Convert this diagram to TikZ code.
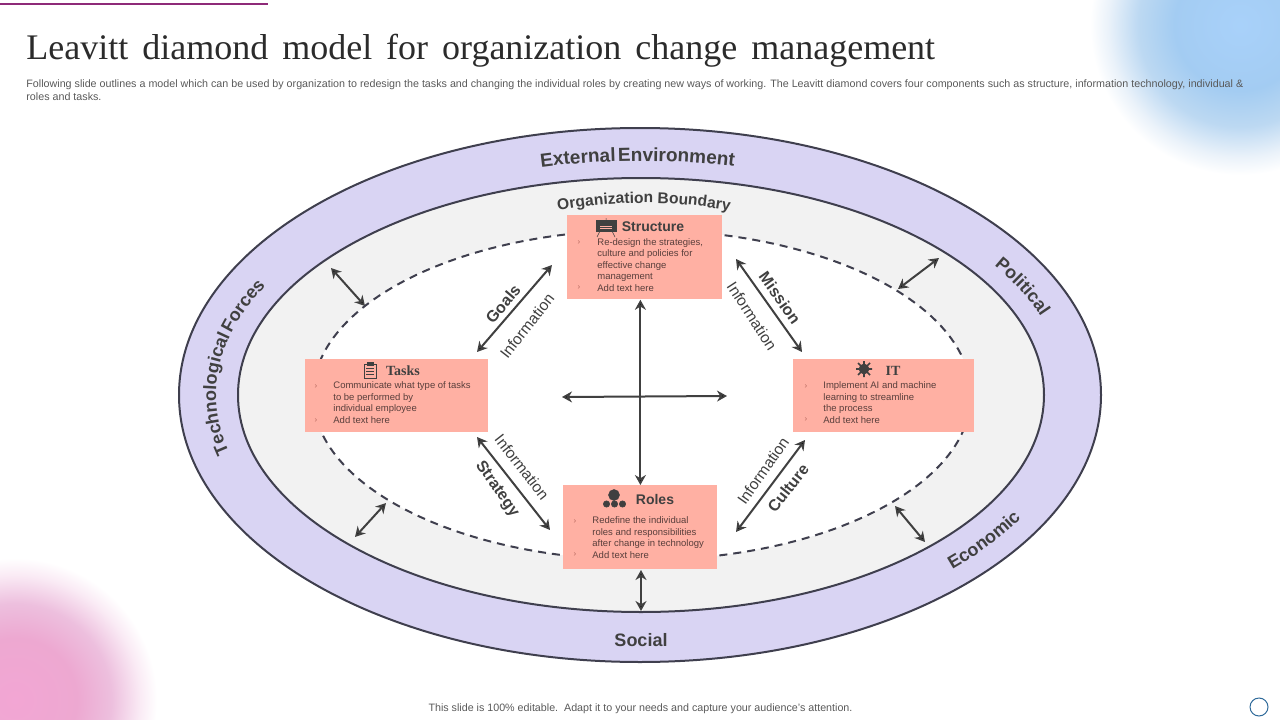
\documentclass[tikz,border=0pt]{standalone}
\usepackage{fontspec}
\setmainfont{Liberation Sans}
\newfontfamily\titlefont[WordSpace=1.55]{Liberation Serif}
\newfontfamily\ringfont[WordSpace=0.45]{Liberation Sans}
\usepackage{tikz}
\usetikzlibrary{arrows.meta,shapes.geometric,decorations.text}
\definecolor{ink}{HTML}{404040}
\definecolor{rim}{HTML}{3F3F4E}
\definecolor{lavender}{HTML}{D9D4F3}
\definecolor{paper}{HTML}{F2F2F2}
\definecolor{salmon}{HTML}{FFB0A3}
\definecolor{boxtext}{HTML}{5A3F3C}
\definecolor{tick}{HTML}{B8695E}
\definecolor{greytext}{HTML}{595959}
\definecolor{titletext}{HTML}{2B2B2B}
\pgfdeclareradialshading{blueblob}{\pgfpoint{0bp}{0bp}}{rgb(0bp)=(0.66,0.82,0.98);rgb(11bp)=(0.64,0.80,0.95);rgb(17bp)=(0.74,0.85,0.95);rgb(22bp)=(0.92,0.95,0.98);rgb(25bp)=(1,1,1);rgb(50bp)=(1,1,1)}
\pgfdeclareradialshading{pinkblob}{\pgfpoint{0bp}{0bp}}{rgb(0bp)=(0.95,0.65,0.83);rgb(11bp)=(0.93,0.66,0.82);rgb(17bp)=(0.93,0.75,0.87);rgb(22bp)=(0.98,0.92,0.96);rgb(25bp)=(1,1,1);rgb(50bp)=(1,1,1)}

\begin{document}
\begin{tikzpicture}[x=1pt,y=-1pt,>={Stealth[length=10pt,width=11pt]},thick]
  \tikzstyle{ring}=[ellipse,inner sep=0pt,draw=rim,line width=2pt]
  \tikzstyle{box}=[rectangle,fill=salmon,inner sep=0pt,anchor=north west]
  \tikzstyle{body}=[anchor=north west,inner sep=0pt,align=left,text=boxtext,font=\fontsize{9.5}{11.45}\selectfont]
  \tikzstyle{tick}=[inner sep=0pt,text=tick,font=\fontsize{8}{8}\selectfont]
  \tikzstyle{headsans}=[inner sep=0pt,text=ink,font=\bfseries\fontsize{14}{16}\selectfont]
  \tikzstyle{headserif}=[inner sep=0pt,text=ink,font=\titlefont\bfseries\fontsize{14}{16}\selectfont]
  \tikzstyle{every edge}=[draw=ink,line width=2pt]
  \tikzstyle{word}=[inner sep=0pt,text=ink,font=\bfseries\fontsize{16}{18}\selectfont]
  \tikzstyle{info}=[inner sep=0pt,text=ink,font=\fontsize{15.5}{18}\selectfont]
  \tikzstyle{icon}=[draw=ink,fill=ink,line width=0.5pt]

  \useasboundingbox (0,0) rectangle (1280,720);
  \begin{scope}
    \clip (0,0) rectangle (1280,720);
    \shade[shading=blueblob] (1240,25) circle [radius=150pt];
    \shade[shading=pinkblob] (15,700) circle [radius=142pt];
  \end{scope}

  \coordinate (barL) at (0,4);
  \coordinate (barR) at (268,4);
  \path (barL) edge [draw={rgb,255:red,142;green,42;blue,120},line width=2pt] (barR);

  \node[inner sep=0pt,anchor=west,text=titletext,font=\titlefont\fontsize{36}{40}\selectfont] (title) at (26,51)
    {Leavitt diamond model for organization change management};
  \node[inner sep=0pt,anchor=north west,align=left,text=greytext,font=\fontsize{10.72}{13.2}\selectfont] (intro) at (26,79.5)
    {Following slide outlines a model which can be used by organization to redesign the tasks and changing the individual roles by creating new ways of working. The Leavitt diamond covers four components such as structure, information technology, individual \&\\roles and tasks.};

  \node[ring,fill=lavender,minimum width=922pt,minimum height=534pt] (outer) at (640,395) {};
  \node[ring,fill=paper,minimum width=806pt,minimum height=434pt] (inner) at (641,395) {};
  \node[ellipse,inner sep=0pt,fill=white,draw=rim,line width=2pt,dash pattern=on 8pt off 6pt,minimum width=658pt,minimum height=330pt] (dashed) at (642,395) {};

  \coordinate (mid) at (641,395);
  \path[decorate,decoration={text along path,text align=center,text color=ink,
      text={|\ringfont\bfseries\fontsize{19}{20}\selectfont|External Environment}}]
    (mid) ++(116.5:426pt and 234pt) arc [start angle=116.5,end angle=64.5,x radius=426pt,y radius=234pt];
  \path[decorate,decoration={text along path,text align=center,text color=ink,
      text={|\ringfont\bfseries\fontsize{18}{20}\selectfont|Technological Forces}}]
    (mid) ++(207:425pt and 232pt) arc [start angle=207,end angle=141,x radius=425pt,y radius=232pt];
  \path[decorate,decoration={text along path,text align=center,text color=ink,
      text={|\bfseries\fontsize{18}{20}\selectfont|Political}}]
    (mid) ++(47:425pt and 232pt) arc [start angle=47,end angle=2,x radius=425pt,y radius=232pt];
  \path[decorate,decoration={text along path,text align=center,text color=ink,
      text={|\bfseries\fontsize{18}{20}\selectfont|Economic}}]
    (mid) ++(-58:438pt and 248pt) arc [start angle=-58,end angle=-12,x radius=438pt,y radius=248pt];
  \coordinate (bow) at (644,333);
  \path[decorate,decoration={text along path,text align=center,text color=ink,
      text={|\bfseries\fontsize{15.6}{18}\selectfont|Organization Boundary}}]
    (bow) ++(140:250pt and 130pt) arc [start angle=140,end angle=40,x radius=250pt,y radius=130pt];
  \node[word,font=\bfseries\fontsize{18}{20}\selectfont] (social) at (641,640) {Social};

  \node[box,minimum width=155pt,minimum height=84pt] (structure) at (567,215) {};
  \node[box,minimum width=183pt,minimum height=73pt] (tasks) at (305,359) {};
  \node[box,minimum width=181pt,minimum height=73pt] (it) at (793,359) {};
  \node[box,minimum width=154pt,minimum height=84pt] (roles) at (563,485) {};

  \path[icon] (596,220) rectangle (616,231);
  \draw[ink,line width=0.5pt] (600,231) -- (597,237) (612,231) -- (615,237) (606,218) -- (606,220);
  \draw[salmon,line width=0.4pt] (600,226) -- (612,226) (600,228) -- (612,228);
  \node[headsans] (structurehead) at (653,227) {Structure};
  \node[body] (structuretext) at (597,238) {Re-design the strategies,\\culture and policies for\\effective change\\management\\Add text here};
  \node[tick] (structuretickA) at (579,243) {›};
  \node[tick] (structuretickB) at (579,288) {›};

  \draw[ink,line width=1pt] (364,364) rectangle (376,378);
  \path[icon] (367,362) rectangle (373,365);
  \draw[ink,line width=0.7pt] (366,368) -- (374,368) (366,371) -- (374,371) (366,374) -- (374,374);
  \node[headserif] (taskshead) at (403,371) {Tasks};
  \node[body] (taskstext) at (333,381.5) {Communicate what type of tasks\\to be performed by\\individual employee\\Add text here};
  \node[tick] (taskstickA) at (316,387) {›};
  \node[tick] (taskstickB) at (316,421) {›};

  \path[icon] (864,369) circle [radius=5pt];
  \draw[ink,line width=1.6pt] (856,369) -- (872,369) (858,375) -- (870,363) (858,363) -- (870,375) (864,361) -- (864,377);
  \node[headserif] (ithead) at (893,371) {IT};
  \node[body] (ittext) at (823,381.5) {Implement AI and machine\\learning to streamline\\the process\\Add text here};
  \node[tick] (ittickA) at (806,387) {›};
  \node[tick] (ittickB) at (806,420) {›};

  \path[icon] (614,495) circle [radius=5.5pt];
  \path[icon] (606.5,504) circle [radius=3.2pt] (614.5,504) circle [radius=3.2pt] (622.5,504) circle [radius=3.2pt];
  \node[headsans] (roleshead) at (655,499) {Roles};
  \node[body] (rolestext) at (592,516.5) {Redefine the individual\\roles and responsibilities\\after change in technology\\Add text here};
  \node[tick] (rolestickA) at (575,522) {›};
  \node[tick] (rolestickB) at (575,555) {›};

  \coordinate (goalsA) at (552,265);
  \coordinate (goalsB) at (477,352);
  \coordinate (missionA) at (736,259);
  \coordinate (missionB) at (802,352);
  \coordinate (strategyA) at (477,437);
  \coordinate (strategyB) at (550,530);
  \coordinate (cultureA) at (805,440);
  \coordinate (cultureB) at (736,532);
  \coordinate (crossL) at (562,397);
  \coordinate (crossR) at (727,396);
  \coordinate (nwA) at (331,268);
  \coordinate (nwB) at (365,306);
  \coordinate (neA) at (898,289);
  \coordinate (neB) at (939,258);
  \coordinate (swA) at (355,537);
  \coordinate (swB) at (386,503);
  \coordinate (seA) at (895,506);
  \coordinate (seB) at (925,542);
  \coordinate (southA) at (641,570);
  \coordinate (southB) at (641,611);

  \path[<->] (goalsA) edge (goalsB)
             (missionA) edge (missionB)
             (strategyA) edge (strategyB)
             (cultureA) edge (cultureB)
             (crossL) edge (crossR)
             (roles.north |- structure.south) edge (roles.north)
             (nwA) edge (nwB)
             (neA) edge (neB)
             (swA) edge (swB)
             (seA) edge (seB)
             (southA) edge (southB);

  \node[word,rotate=50] (goals) at (503,304) {Goals};
  \node[info,rotate=52] (infoGoals) at (527,326) {Information};
  \node[word,rotate=-55] (mission) at (780,298) {Mission};
  \node[info,rotate=-57] (infoMission) at (752,316) {Information};
  \node[word,rotate=-55] (strategy) at (497,489) {Strategy};
  \node[info,rotate=-52] (infoStrategy) at (522,467) {Information};
  \node[word,rotate=52] (culture) at (788,488) {Culture};
  \node[info,rotate=55] (infoCulture) at (763,471) {Information};

  \node[inner sep=0pt,text=greytext,font=\fontsize{10.7}{12}\selectfont] (footer) at (640.5,709)
    {This slide is 100\% editable.\ \ Adapt it to your needs and capture your audience's attention.};
  \node[circle,draw={rgb,255:red,47;green,106;blue,154},line width=1pt,fill=white,minimum size=18pt,inner sep=0pt] (badge) at (1259,707) {};
\end{tikzpicture}
\end{document}
